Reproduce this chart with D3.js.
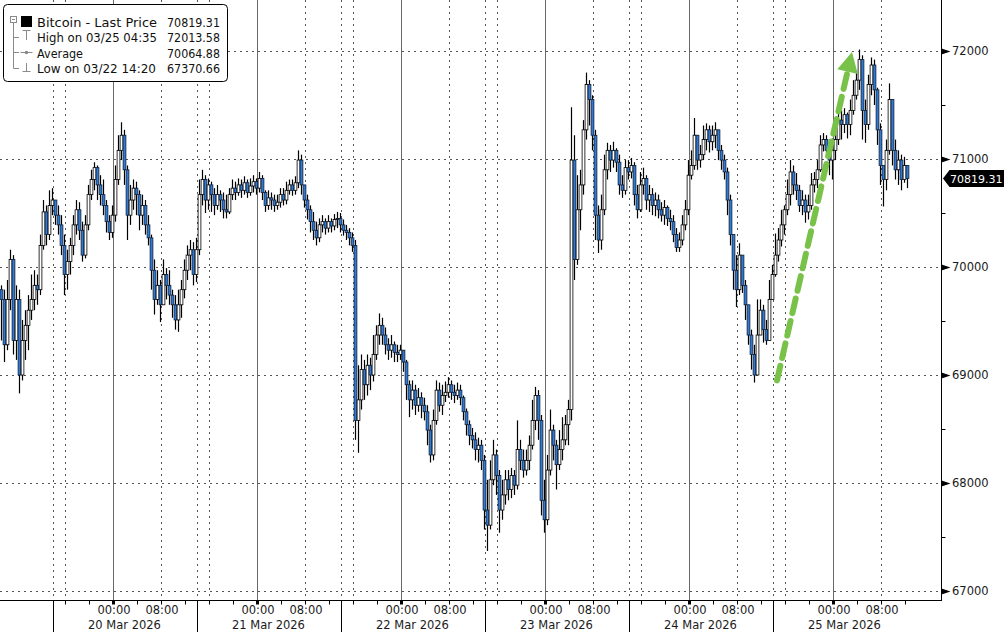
<!DOCTYPE html>
<html><head><meta charset="utf-8">
<script src="https://cdn.jsdelivr.net/npm/d3@7"></script>
<style>body{margin:0;background:#fff}svg{display:block}text{font-family:"DejaVu Sans",Verdana,sans-serif}</style>
</head><body><svg id="c" width="1004" height="632"></svg>
<script>
// ---------------- DATA ----------------
const startTime = "2026-03-19T05:30:00Z";   // first 30-minute bar
const barMinutes = 30;
const firstOpen = 69790;
const closes = [
69700,69280,69700,70070,69320,69700,69000,69320,69460,69600,
69700,69830,69790,70200,70510,70300,70570,70620,70480,70390,
70200,69930,70050,70200,70390,70530,70340,70110,70390,70670,
70810,70920,70760,70670,70570,70420,70320,70480,70810,71080,
71220,70900,70480,70620,70730,70670,70480,70570,70390,70270,
69970,69700,69830,69650,69930,69830,69740,69650,69510,69650,
69790,69970,70110,70160,69930,70160,70670,70810,70620,70760,
70670,70570,70670,70620,70530,70510,70670,70730,70690,70760,
70710,70780,70690,70750,70790,70730,70820,70690,70570,70640,
70620,70570,70600,70670,70620,70710,70760,70710,70780,70990,
70760,70620,70530,70420,70340,70270,70390,70420,70360,70420,
70380,70440,70450,70390,70340,70320,70270,70200,68580,68770,
69050,68910,69090,69000,69190,69370,69460,69370,69280,69230,
69280,69210,69190,69230,69120,68910,68770,68860,68720,68790,
68720,68660,68490,68260,68580,68860,68720,68810,68840,68910,
68840,68810,68860,68790,68660,68540,68440,68400,68310,68350,
68210,67750,67610,68030,68260,68070,67750,67890,68030,67940,
68070,67980,68310,68210,68120,68210,68350,68580,68810,68580,
67840,67660,68120,68490,68350,68170,68310,68400,68540,68680,
70990,70070,70530,70760,71270,71690,71550,71220,70480,70250,
70530,70900,71080,70990,71080,70970,70760,70710,70920,70880,
70940,70670,70530,70760,70820,70620,70670,70570,70620,70530,
70480,70550,70450,70420,70300,70180,70250,70390,70530,70850,
70940,71220,70990,71040,71180,71270,71160,71220,71270,71080,
70990,70880,70620,70300,69970,69790,70110,69830,69650,69370,
69190,69000,69370,69600,69420,69320,69700,69930,70110,70250,
70390,70530,70670,70880,70760,70710,70570,70620,70510,70570,
70760,70810,70900,71130,71180,71080,70990,71080,71180,71360,
71320,71410,71320,71450,71590,71730,71920,71450,71320,71690,
71870,71640,71270,70940,70810,71080,71550,71080,70900,70990,
70810,70940,70819.31];
const highs = [
69830,69790,69880,70160,70110,69830,69790,69510,69600,69740,
69930,69970,69930,70300,70620,70570,70710,70730,70620,70570,
70480,70300,70160,70270,70480,70620,70600,70420,70480,70760,
70900,70970,70940,70850,70810,70620,70480,70570,70940,71220,
71340,71270,70940,70760,70810,70790,70710,70670,70620,70480,
70300,70070,69970,69880,70070,69990,69970,69790,69740,69790,
69880,70070,70200,70250,70230,70270,70810,70900,70850,70820,
70790,70730,70760,70710,70690,70670,70730,70810,70790,70820,
70810,70840,70810,70820,70850,70820,70880,70850,70710,70710,
70690,70670,70670,70730,70730,70790,70810,70810,70840,71080,
71040,70760,70670,70570,70510,70420,70450,70480,70450,70480,
70450,70490,70510,70500,70440,70390,70360,70320,70250,69090,
69190,69140,69190,69160,69370,69460,69570,69530,69440,69340,
69370,69310,69280,69280,69230,69140,68950,68950,68910,68880,
68840,68790,68720,68540,68680,68950,68930,68910,68940,68980,
68950,68910,68930,68910,68810,68690,68580,68510,68470,68420,
68400,68260,68030,68210,68400,68310,68120,68030,68120,68120,
68140,68120,68580,68400,68310,68310,68440,68770,68890,68860,
68630,68030,68260,68680,68540,68400,68490,68610,68630,68770,
71480,71220,70850,70900,71360,71800,71730,71590,71270,70570,
70670,71040,71150,71130,71160,71100,71040,70850,70990,70990,
71010,70970,70760,70880,70920,70850,70760,70730,70690,70670,
70600,70620,70570,70530,70480,70360,70320,70480,70620,70990,
71080,71380,71180,71130,71310,71330,71310,71310,71340,71220,
71130,71040,70920,70670,70300,70110,70220,70110,69880,69650,
69420,69280,69700,69700,69650,69510,69880,70020,70310,70360,
70530,70570,70810,70990,70940,70870,70760,70710,70670,70670,
70870,70880,70990,71220,71240,71220,71180,71190,71270,71480,
71450,71470,71430,71550,71730,71820,72013.58,71960,71550,71780,
71940,71920,71660,71330,70940,71180,71700,71500,71180,71080,
71040,71020,70940];
const lows = [
69320,69120,69230,69600,69190,69140,68830,68950,69140,69230,
69510,69600,69650,69740,70160,70200,70250,70480,70390,70300,
70110,69740,69790,69930,70110,70300,70250,70050,70080,70340,
70620,70710,70620,70570,70480,70320,70250,70270,70420,70760,
70990,70760,70250,70390,70530,70480,70340,70390,70300,70200,
69790,69560,69650,69490,69700,69700,69650,69530,69420,69400,
69530,69710,69880,69970,69830,69860,70110,70570,70500,70530,
70510,70480,70530,70510,70450,70450,70490,70620,70620,70660,
70640,70670,70640,70660,70690,70670,70690,70620,70510,70530,
70530,70510,70530,70550,70570,70580,70670,70660,70670,70730,
70670,70550,70440,70320,70250,70200,70230,70320,70300,70320,
70320,70340,70360,70320,70290,70250,70200,70140,68400,68280,
68680,68770,68810,68860,68940,69140,69280,69280,69190,69140,
69160,69120,69120,69140,69030,68770,68610,68680,68630,68660,
68600,68580,68350,68190,68210,68540,68660,68630,68750,68790,
68770,68740,68770,68720,68580,68440,68350,68320,68210,68190,
68120,67570,67370.66,67570,67980,67890,67540,67660,67800,67840,
67860,67890,67940,68120,68050,68070,68120,68310,68490,68400,
67700,67540,67610,68070,68210,67940,68120,68210,68350,68350,
68580,69880,70020,70340,70670,71180,71310,71080,70250,70130,
70160,70480,70810,70880,70920,70880,70670,70640,70670,70810,
70820,70570,70450,70510,70670,70530,70510,70480,70470,70450,
70420,70390,70380,70340,70230,70140,70140,70200,70340,70480,
70810,70900,70900,70920,70990,71080,71060,71080,71100,70990,
70900,70810,70480,70200,69790,69630,69740,69760,69510,69280,
69050,68930,69000,69370,69300,69280,69320,69700,69910,70050,
70190,70300,70480,70570,70670,70620,70510,70480,70410,70440,
70530,70690,70730,70880,71070,71010,70850,70810,70990,71130,
71180,71240,71190,71220,71410,71550,71640,71180,71150,71270,
71590,71500,71130,70760,70560,70710,71040,70940,70810,70760,
70710,70780,70730];

const yTicks = [67000, 68000, 69000, 70000, 71000, 72000];
const yMinorTicks = [67500, 68500, 69500, 70500, 71500];
const dayLabels = ["20 Mar 2026", "21 Mar 2026", "22 Mar 2026", "23 Mar 2026", "24 Mar 2026", "25 Mar 2026"];
const timeLabels = ["00:00", "08:00"];
const timeLabelHours = [0, 8];
const legendLabels = ["Bitcoin - Last Price", "High on 03/25 04:35", "Average", "Low on 03/22 14:20"];
const legendValues = ["70819.31", "72013.58", "70064.88", "67370.66"];
const lastPrice = 70819.31;
const arrowFrom = {t: "2026-03-24T14:45:00Z", v: 68950};
const arrowTo   = {t: "2026-03-25T03:15:00Z", v: 71990};

// ---------------- CHART ----------------
const svg = d3.select("#c");
const plotR = 941.5, plotB = 600;
const x = d3.scaleUtc()
  .domain([new Date("2026-03-19T05:15:00Z"), new Date("2026-03-25T18:15:00Z")])
  .range([0, 942]);
const y = d3.scaleLinear().domain([66917, 72472]).range([plotB, 0]);

const t0 = new Date(startTime);
const bars = closes.map((c, i) => {
  const o = i === 0 ? firstOpen : closes[i - 1];
  return {t: new Date(+t0 + i * barMinutes * 60000), o, c,
          h: Math.max(highs[i], o, c), l: Math.min(lows[i], o, c)};
});
const lastT = bars[bars.length - 1].t;

// grid
const gGrid = svg.append("g");
gGrid.selectAll("line.h").data(yTicks).join("line")
  .attr("x1", 0).attr("x2", plotR)
  .attr("y1", d => Math.round(y(d)) + 0.5).attr("y2", d => Math.round(y(d)) + 0.5)
  .attr("stroke", "#555").attr("stroke-width", 1).attr("stroke-dasharray", "2,4");

const gridTimes = d3.utcHour.range(new Date("2026-03-19T14:00:00Z"), lastT)
  .filter(t => [0, 8, 14, 16].includes(t.getUTCHours()));
gGrid.selectAll("line.v").data(gridTimes).join("line")
  .attr("x1", d => Math.round(x(d)) + 0.5).attr("x2", d => Math.round(x(d)) + 0.5)
  .attr("y1", 0).attr("y2", plotB)
  .attr("stroke", d => d.getUTCHours() === 0 ? "#6a6a6a" : "#555")
  .attr("stroke-width", 1)
  .attr("stroke-dasharray", d => d.getUTCHours() === 0 ? null : "2,4");

// candles
const bw = 2.8;
const gC = svg.append("g");
gC.selectAll("line.w").data(bars).join("line")
  .attr("x1", d => x(d.t)).attr("x2", d => x(d.t))
  .attr("y1", d => y(d.h)).attr("y2", d => y(d.l))
  .attr("stroke", "#000").attr("stroke-width", 1.2);
gC.selectAll("rect").data(bars).join("rect")
  .attr("x", d => x(d.t) - bw / 2)
  .attr("y", d => y(Math.max(d.o, d.c)))
  .attr("width", bw)
  .attr("height", d => Math.max(0.8, Math.abs(y(d.o) - y(d.c))))
  .attr("fill", d => d.c >= d.o ? "#fff" : "#2f7bd4")
  .attr("stroke", d => d.c >= d.o ? "#000" : "#10203a")
  .attr("stroke-width", 0.8);

// green arrow annotation
(function () {
  const p0 = [x(new Date(arrowFrom.t)), y(arrowFrom.v)];
  const p1 = [x(new Date(arrowTo.t)), y(arrowTo.v)];
  const dx = p1[0] - p0[0], dy = p1[1] - p0[1], L = Math.hypot(dx, dy);
  const ux = dx / L, uy = dy / L, px = -uy, py = ux;
  const hl = 20, hw = 21;
  const b = [p1[0] - ux * hl, p1[1] - uy * hl];
  svg.append("line")
    .attr("x1", p0[0]).attr("y1", p0[1]).attr("x2", b[0] + ux * 2).attr("y2", b[1] + uy * 2)
    .attr("stroke", "#78c24a").attr("stroke-width", 6)
    .attr("stroke-dasharray", "15,8").attr("stroke-linecap", "round");
  svg.append("path")
    .attr("d", `M${p1[0]},${p1[1]}L${b[0] + px * hw / 2},${b[1] + py * hw / 2}L${b[0] - px * hw / 2},${b[1] - py * hw / 2}Z`)
    .attr("fill", "#78c24a");
})();

// right axis
const gR = svg.append("g");
gR.append("line").attr("x1", plotR).attr("x2", plotR).attr("y1", 0).attr("y2", plotB + 0.5)
  .attr("stroke", "#000").attr("stroke-width", 1);
gR.selectAll("line.m").data(yMinorTicks).join("line")
  .attr("x1", plotR).attr("x2", plotR + 4)
  .attr("y1", d => Math.round(y(d)) + 0.5).attr("y2", d => Math.round(y(d)) + 0.5)
  .attr("stroke", "#000");
gR.selectAll("path.tri").data(yTicks).join("path")
  .attr("d", d => { const yy = Math.round(y(d)) + 0.5; return `M${plotR},${yy - 3}L${plotR + 9},${yy}L${plotR},${yy + 3}Z`; })
  .attr("fill", "#000");
gR.selectAll("text").data(yTicks).join("text")
  .attr("x", 952).attr("y", d => y(d)).attr("dy", "0.36em")
  .attr("font-size", 11.5).attr("fill", "#1a1a1a").text(d => d);

// last price tag
(function () {
  const yy = y(lastPrice);
  svg.append("path")
    .attr("d", `M943,${yy}L949.5,${yy - 8.5}L1004,${yy - 8.5}L1004,${yy + 8.5}L949.5,${yy + 8.5}Z`)
    .attr("fill", "#000");
  svg.append("text").attr("x", 950).attr("y", yy).attr("dy", "0.37em")
    .attr("font-size", 11).attr("fill", "#fff").text(lastPrice.toFixed(2));
})();

// bottom axis
const gB = svg.append("g");
gB.append("line").attr("x1", 0).attr("x2", plotR + 0.5).attr("y1", plotB + 0.5).attr("y2", plotB + 0.5)
  .attr("stroke", "#000");
const tickTimes = d3.utcHour.every(4).range(new Date("2026-03-19T16:00:00Z"), lastT);
gB.selectAll("line.t").data(tickTimes.filter(t => t.getUTCHours() !== 0)).join("line")
  .attr("x1", d => Math.round(x(d)) + 0.5).attr("x2", d => Math.round(x(d)) + 0.5)
  .attr("y1", plotB).attr("y2", plotB + 4.5).attr("stroke", "#000");
gB.selectAll("rect.maj").data(tickTimes.filter(t => t.getUTCHours() === 0)).join("rect")
  .attr("x", d => Math.round(x(d)) - 1).attr("y", plotB).attr("width", 3).attr("height", 4.5)
  .attr("fill", "#000");
const sepTimes = dayLabels.map((_, i) => new Date(Date.UTC(2026, 2, 19 + i, 14)));
gB.selectAll("line.sep").data(sepTimes).join("line")
  .attr("x1", d => Math.round(x(d)) + 0.5).attr("x2", d => Math.round(x(d)) + 0.5)
  .attr("y1", plotB).attr("y2", 632).attr("stroke", "#000");
gB.selectAll("text.date").data(dayLabels).join("text")
  .attr("x", (d, i) => (x(sepTimes[i]) + x(new Date(+sepTimes[i] + 864e5))) / 2)
  .attr("y", 629).attr("text-anchor", "middle").attr("font-size", 11.5).attr("fill", "#1a1a1a")
  .text(d => d);
const tl = [];
dayLabels.forEach((_, i) => timeLabelHours.forEach((h, j) =>
  tl.push({t: new Date(Date.UTC(2026, 2, 20 + i, h)), s: timeLabels[j]})));
gB.selectAll("text.time").data(tl).join("text")
  .attr("x", d => x(d.t) + 1.5).attr("y", 613.5).attr("text-anchor", "middle")
  .attr("font-size", 11.5).attr("fill", "#1a1a1a").text(d => d.s);

// legend
const gL = svg.append("g");
gL.append("rect").attr("x", 3.5).attr("y", 4.5).attr("width", 224).attr("height", 77).attr("rx", 4)
  .attr("fill", "#fff").attr("stroke", "#000");
const rowY = [26.5, 42.3, 57.5, 73.2];
const labW = [120, 120, 46, 119];
gL.selectAll("text.lab").data(legendLabels).join("text")
  .attr("x", 37).attr("y", (d, i) => rowY[i]).attr("font-size", 13).attr("fill", "#111")
  .attr("textLength", (d, i) => labW[i]).attr("lengthAdjust", "spacingAndGlyphs").text(d => d);
gL.selectAll("text.val").data(legendValues).join("text")
  .attr("x", 167).attr("y", (d, i) => rowY[i])
  .attr("font-size", 13).attr("fill", "#111")
  .attr("textLength", 53).attr("lengthAdjust", "spacingAndGlyphs").text(d => d);
const gray = "#8a8a8a";
// tree
gL.append("rect").attr("x", 10.5).attr("y", 16.5).attr("width", 6).attr("height", 6)
  .attr("fill", "none").attr("stroke", gray);
gL.append("line").attr("x1", 12).attr("x2", 15).attr("y1", 19.5).attr("y2", 19.5).attr("stroke", gray);
gL.append("line").attr("x1", 13.5).attr("x2", 13.5).attr("y1", 22.5).attr("y2", 68.5).attr("stroke", gray);
[37.5, 52.5, 68.5].forEach(v => gL.append("line").attr("x1", 13.5).attr("x2", 19).attr("y1", v).attr("y2", v).attr("stroke", gray));
gL.append("rect").attr("x", 21).attr("y", 16).attr("width", 11).attr("height", 11).attr("fill", "#000");
// high icon
gL.append("line").attr("x1", 22.5).attr("x2", 30.5).attr("y1", 30.5).attr("y2", 30.5).attr("stroke", gray);
gL.append("line").attr("x1", 26.5).attr("x2", 26.5).attr("y1", 30.5).attr("y2", 40).attr("stroke", gray);
// average icon
gL.append("line").attr("x1", 20.5).attr("x2", 32.5).attr("y1", 52.5).attr("y2", 52.5).attr("stroke", gray);
gL.append("circle").attr("cx", 26.5).attr("cy", 52.5).attr("r", 1.8).attr("fill", gray);
// low icon
gL.append("line").attr("x1", 26.5).attr("x2", 26.5).attr("y1", 63).attr("y2", 71.5).attr("stroke", gray);
gL.append("line").attr("x1", 22.5).attr("x2", 30.5).attr("y1", 71.5).attr("y2", 71.5).attr("stroke", gray);
</script></body></html>
